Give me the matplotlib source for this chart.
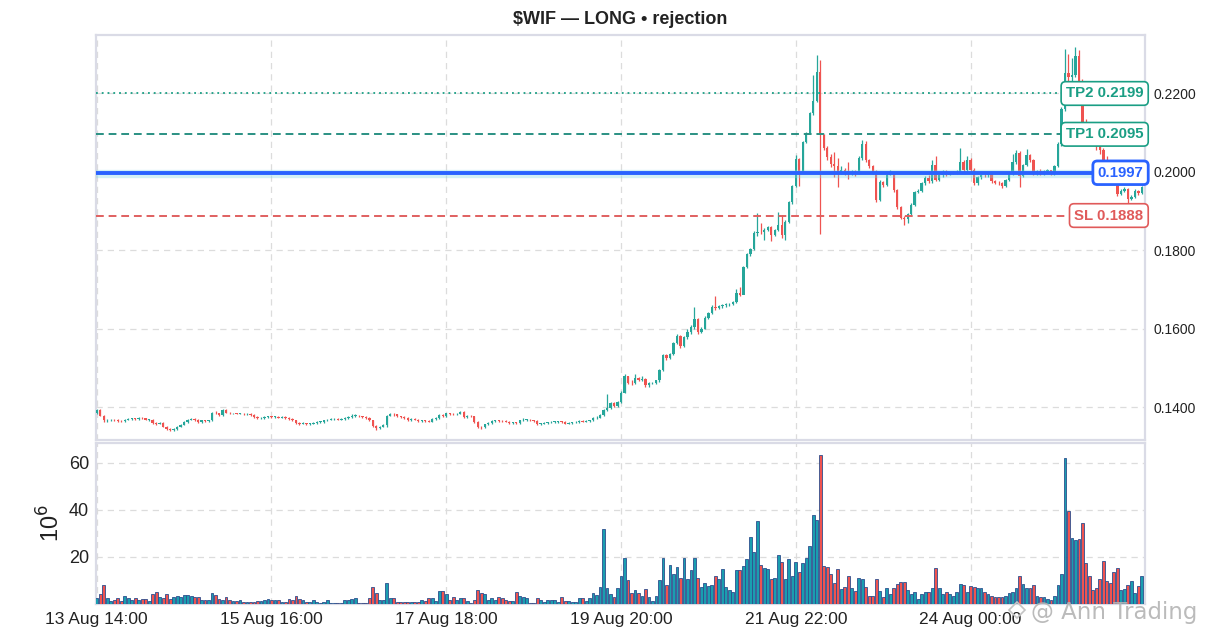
import matplotlib
matplotlib.use("Agg")
import matplotlib.pyplot as plt
from matplotlib.lines import Line2D
import numpy as np

# ---------------- data (prices in 1e-4 units, volume in millions) ----------------
first_open = 1386
closes = [
    1392, 1378, 1366, 1366, 1368, 1367, 1365, 1364, 1368, 1370,
    1371, 1370, 1372, 1371, 1368, 1368, 1360, 1358, 1360, 1350,
    1345, 1342, 1344, 1350, 1355, 1362, 1368, 1370, 1368, 1362,
    1366, 1365, 1366, 1386, 1384, 1380, 1393, 1386, 1384, 1384,
    1383, 1383, 1382, 1382, 1380, 1375, 1372, 1372, 1375, 1376,
    1375, 1375, 1373, 1374, 1372, 1370, 1366, 1360, 1358, 1358,
    1357, 1358, 1360, 1362, 1362, 1366, 1368, 1369, 1369, 1368,
    1370, 1372, 1375, 1378, 1378, 1376, 1375, 1372, 1366, 1352,
    1346, 1350, 1353, 1378, 1382, 1381, 1376, 1374, 1372, 1366,
    1369, 1368, 1365, 1366, 1364, 1363, 1370, 1372, 1380, 1376,
    1384, 1382, 1381, 1383, 1388, 1375, 1378, 1376, 1362, 1350,
    1348, 1356, 1360, 1364, 1366, 1365, 1364, 1363, 1360, 1361,
    1359, 1366, 1368, 1368, 1366, 1365, 1357, 1358, 1360, 1361,
    1362, 1362, 1363, 1362, 1358, 1360, 1361, 1362, 1364, 1363,
    1364, 1366, 1372, 1373, 1380, 1392, 1397, 1410, 1403, 1413,
    1437, 1478, 1462, 1460, 1474, 1470, 1471, 1455, 1460, 1462,
    1468, 1495, 1533, 1525, 1535, 1563, 1580, 1555, 1578, 1590,
    1605, 1625, 1590, 1600, 1628, 1640, 1655, 1653, 1658, 1660,
    1662, 1663, 1668, 1690, 1685, 1757, 1790, 1803, 1844, 1847,
    1845, 1852, 1858, 1838, 1850, 1863, 1838, 1872, 1922, 1963,
    2032, 2000, 2075, 2098, 2148, 2180, 2254, 2093, 2061, 2038,
    2020, 2015, 2000, 2005, 2002, 1998, 2000, 1996, 2034, 2070,
    2029, 2015, 2000, 1928, 1974, 1965, 1992, 1996, 1952, 1910,
    1882, 1878, 1891, 1916, 1947, 1951, 1970, 1984, 1975, 2016,
    1979, 1990, 2000, 1992, 1996, 1998, 2000, 2025, 2003, 2030,
    2005, 1970, 1985, 1991, 1990, 1995, 1975, 1972, 1970, 1963,
    1978, 1995, 2025, 2048, 1988, 2017, 2043, 2030, 1993, 2002,
    1995, 2001, 2003, 1995, 2015, 2070, 2160, 2250, 2240, 2245,
    2295, 2231, 2125, 2115, 2100, 2085, 2065, 2055, 2030, 2025,
    2000, 1980, 1942, 1950, 1955, 1929, 1935, 1950, 1945, 1960,
]
highs = [
    1396, 1394, 1380, 1369, 1370, 1370, 1369, 1367, 1370, 1372,
    1373, 1373, 1374, 1374, 1373, 1370, 1370, 1363, 1363, 1362,
    1352, 1347, 1346, 1352, 1357, 1364, 1370, 1373, 1372, 1370,
    1368, 1368, 1368, 1388, 1390, 1386, 1396, 1395, 1388, 1386,
    1386, 1385, 1385, 1384, 1384, 1382, 1377, 1374, 1377, 1378,
    1378, 1377, 1377, 1376, 1376, 1374, 1372, 1368, 1362, 1361,
    1360, 1360, 1362, 1364, 1364, 1368, 1370, 1371, 1371, 1371,
    1372, 1374, 1377, 1381, 1381, 1380, 1378, 1377, 1374, 1368,
    1354, 1352, 1356, 1380, 1385, 1384, 1383, 1378, 1376, 1374,
    1371, 1371, 1370, 1368, 1368, 1366, 1372, 1374, 1382, 1382,
    1386, 1386, 1384, 1385, 1390, 1390, 1380, 1380, 1378, 1364,
    1352, 1358, 1362, 1366, 1368, 1368, 1367, 1366, 1365, 1363,
    1363, 1368, 1372, 1370, 1370, 1368, 1366, 1360, 1362, 1363,
    1364, 1364, 1365, 1365, 1364, 1362, 1363, 1364, 1366, 1366,
    1366, 1368, 1374, 1376, 1383, 1396, 1432, 1414, 1412, 1416,
    1440, 1484, 1480, 1468, 1484, 1476, 1478, 1474, 1463, 1465,
    1470, 1498, 1536, 1536, 1538, 1566, 1586, 1584, 1582, 1600,
    1608, 1655, 1628, 1604, 1632, 1643, 1660, 1683, 1661, 1663,
    1665, 1666, 1671, 1701, 1705, 1760, 1793, 1806, 1848, 1894,
    1870, 1855, 1862, 1861, 1854, 1898, 1890, 1876, 1925, 1966,
    2043, 2035, 2078, 2101, 2151, 2247, 2298, 2285, 2095, 2065,
    2045, 2050, 2035, 2015, 2010, 2025, 2005, 2004, 2040, 2080,
    2078, 2032, 2018, 2003, 1978, 1977, 1996, 2005, 1998, 1955,
    1912, 1888, 1895, 1920, 1950, 1955, 1974, 1988, 1990, 2030,
    2040, 1995, 2003, 2004, 2000, 2002, 2004, 2060, 2030, 2040,
    2035, 2008, 1988, 1995, 1995, 1998, 1998, 1978, 1975, 1973,
    1982, 2000, 2045, 2055, 2052, 2020, 2058, 2046, 2033, 2005,
    2006, 2004, 2006, 2005, 2018, 2075, 2165, 2313, 2300, 2290,
    2318, 2310, 2235, 2135, 2120, 2105, 2090, 2070, 2060, 2040,
    2028, 2005, 1985, 1955, 1960, 1958, 1940, 1955, 1953, 1963,
]
lows = [
    1383, 1376, 1362, 1363, 1364, 1365, 1362, 1361, 1362, 1366,
    1368, 1368, 1368, 1369, 1366, 1365, 1358, 1355, 1356, 1348,
    1342, 1338, 1340, 1342, 1348, 1353, 1360, 1366, 1365, 1360,
    1360, 1363, 1363, 1364, 1381, 1378, 1378, 1384, 1382, 1381,
    1381, 1381, 1380, 1380, 1378, 1373, 1370, 1370, 1370, 1373,
    1373, 1372, 1371, 1371, 1370, 1368, 1364, 1358, 1355, 1356,
    1354, 1355, 1356, 1358, 1360, 1360, 1364, 1366, 1367, 1366,
    1366, 1368, 1370, 1373, 1375, 1374, 1373, 1370, 1364, 1348,
    1342, 1344, 1348, 1350, 1376, 1378, 1374, 1372, 1369, 1364,
    1364, 1366, 1363, 1363, 1362, 1361, 1361, 1368, 1370, 1374,
    1374, 1380, 1379, 1379, 1381, 1373, 1373, 1374, 1360, 1346,
    1344, 1346, 1354, 1358, 1362, 1363, 1362, 1361, 1358, 1358,
    1357, 1357, 1364, 1365, 1364, 1363, 1355, 1355, 1356, 1358,
    1359, 1360, 1360, 1360, 1356, 1356, 1358, 1359, 1360, 1361,
    1361, 1362, 1364, 1370, 1371, 1378, 1390, 1395, 1400, 1401,
    1410, 1435, 1458, 1455, 1458, 1466, 1466, 1452, 1452, 1458,
    1458, 1465, 1492, 1520, 1522, 1532, 1560, 1550, 1552, 1574,
    1586, 1600, 1586, 1588, 1598, 1624, 1637, 1648, 1650, 1652,
    1656, 1658, 1660, 1665, 1682, 1710, 1754, 1786, 1800, 1836,
    1842, 1826, 1848, 1822, 1835, 1848, 1830, 1825, 1868, 1918,
    1960, 1962, 1998, 2072, 2095, 2145, 2176, 1842, 2055, 2030,
    2012, 1985, 1960, 1995, 1990, 1980, 1992, 1988, 1994, 2030,
    2025, 2010, 1995, 1922, 1925, 1960, 1962, 1990, 1948, 1905,
    1878, 1865, 1870, 1888, 1913, 1945, 1948, 1966, 1972, 1972,
    1975, 1976, 1987, 1988, 1990, 1993, 1995, 1997, 1998, 2000,
    2000, 1966, 1967, 1982, 1986, 1986, 1972, 1968, 1965, 1958,
    1960, 1975, 1992, 2020, 1960, 1985, 2014, 2025, 1990, 1990,
    1990, 1992, 1996, 1990, 1992, 2012, 2065, 2155, 2230, 2232,
    2240, 2225, 2110, 2100, 2090, 2075, 2055, 2045, 2020, 2015,
    1995, 1975, 1938, 1940, 1948, 1920, 1928, 1932, 1940, 1942,
]
volumes = [
    2.4, 4.3, 8.1, 2.4, 1.4, 1.8, 2.4, 1.1, 3.3, 2.4,
    1.8, 2.4, 1.7, 2.1, 2.1, 1.1, 4.3, 5.0, 2.8, 2.6,
    4.3, 2.1, 2.8, 3.3, 2.8, 4.0, 4.0, 3.5, 3.1, 2.8,
    1.8, 1.7, 1.7, 4.7, 3.8, 2.1, 1.8, 2.8, 1.8, 1.4,
    1.1, 1.7, 0.7, 0.7, 0.7, 1.0, 1.4, 1.4, 1.8, 2.1,
    1.6, 1.8, 1.7, 0.7, 0.7, 2.1, 1.8, 3.5, 2.1, 1.8,
    0.8, 0.8, 1.8, 0.7, 0.4, 0.7, 1.8, 0.5, 0.5, 0.5,
    0.5, 1.8, 1.8, 2.1, 2.4, 0.6, 0.6, 0.6, 2.4, 7.1,
    4.7, 1.8, 1.8, 8.8, 2.4, 2.4, 1.0, 1.0, 0.8, 0.8,
    0.8, 0.8, 0.7, 1.8, 1.2, 2.4, 2.4, 1.4, 5.7, 5.4,
    4.3, 1.8, 3.1, 1.7, 2.4, 2.4, 1.1, 0.6, 1.8, 6.0,
    4.5, 4.3, 1.7, 2.4, 1.7, 2.8, 2.4, 1.6, 1.4, 1.4,
    5.0, 3.5, 2.8, 2.4, 0.6, 0.6, 2.4, 1.8, 0.7, 1.8,
    1.8, 1.8, 0.7, 2.8, 1.1, 1.2, 0.7, 0.7, 2.4, 2.4,
    1.4, 2.4, 4.7, 3.8, 7.1, 32.0, 7.0, 4.3, 2.8, 7.0,
    12.0, 19.7, 10.0, 4.6, 5.8, 4.6, 3.5, 6.2, 2.8, 1.2,
    3.5, 10.0, 19.7, 8.0, 16.6, 12.8, 15.8, 11.0, 19.4, 10.5,
    14.3, 19.7, 11.0, 7.4, 9.0, 7.7, 8.0, 12.0, 10.5, 15.0,
    7.4, 5.8, 5.0, 14.3, 14.3, 16.3, 19.0, 28.6, 22.0, 35.4,
    16.6, 15.4, 15.0, 10.5, 11.0, 21.0, 18.0, 10.5, 19.0, 12.0,
    18.0, 13.5, 17.4, 19.7, 24.6, 37.8, 35.8, 63.5, 16.3, 15.8,
    12.8, 9.0, 15.0, 6.2, 7.4, 12.0, 6.6, 5.5, 11.0, 10.5,
    7.4, 3.5, 3.2, 10.5, 5.5, 2.8, 6.6, 4.3, 6.6, 8.6,
    9.2, 9.2, 5.8, 4.3, 5.0, 2.0, 4.3, 5.0, 5.0, 7.0,
    15.4, 6.6, 4.3, 5.0, 4.3, 3.5, 5.0, 8.6, 8.0, 5.0,
    7.7, 7.4, 7.0, 6.6, 5.0, 4.3, 3.5, 3.0, 2.8, 3.0,
    3.5, 4.6, 5.0, 6.6, 12.0, 8.6, 7.0, 6.6, 8.0, 3.5,
    3.0, 2.8, 2.0, 1.5, 3.5, 8.0, 12.8, 62.0, 39.4, 28.0,
    27.4, 27.7, 34.3, 17.4, 12.0, 5.8, 6.6, 10.8, 18.5, 9.7,
    8.9, 13.8, 15.4, 5.8, 6.2, 8.0, 9.7, 4.6, 7.7, 12.0,
]
xtick_pos = [0, 50, 100, 150, 200, 250]
xtick_labels = ["13 Aug 14:00", "15 Aug 16:00", "17 Aug 18:00",
                "19 Aug 20:00", "21 Aug 22:00", "24 Aug 00:00"]
price_ticks = [0.14, 0.16, 0.18, 0.20, 0.22]
vol_ticks = [20, 40, 60]
tp2, tp1, entry, sl = 0.2199, 0.2095, 0.1997, 0.1888
title = "$WIF — LONG • rejection"

# ---------------- derived arrays ----------------
c = np.array(closes) * 1e-4
h = np.array(highs) * 1e-4
l = np.array(lows) * 1e-4
o = np.concatenate([[first_open * 1e-4], c[:-1]])
v = np.array(volumes)
n = len(c)
x = np.arange(n)
up = c >= o

plt.rcParams['font.family'] = ['Liberation Sans', 'DejaVu Sans']

UP = "#26a69a"
DN = "#ef5350"
GRID = "#dcdcdc"
FRAME = "#dadbe6"

fig = plt.figure(figsize=(12.05, 6.38), dpi=100)
ax = fig.add_axes([96/1205, 1-440/638, (1145-96)/1205, (440-35)/638])
axv = fig.add_axes([96/1205, 1-604/638, (1145-96)/1205, (604-443)/638], sharex=ax)

for a in (ax, axv):
    a.set_facecolor("white")
    for s in a.spines.values():
        s.set_color(FRAME)
        s.set_linewidth(1.6)
    a.grid(True, color=GRID, linestyle=(0, (5, 4)), linewidth=0.9)
    a.set_axisbelow(True)
    a.tick_params(length=0)

# candles
ax.vlines(x, l, h, colors=np.where(up, UP, DN), linewidth=0.9, zorder=2)
body_h = np.maximum(np.abs(c - o), 0.00012)
body_b = np.minimum(o, c)
ax.bar(x, body_h, bottom=body_b, width=0.66, color=np.where(up, UP, DN),
       linewidth=0, zorder=3)

# level lines
ax.axhline(tp2, color="#1a9e84", linestyle=(0, (1, 2.2)), linewidth=1.3, zorder=4)
ax.axhline(tp1, color="#2a9183", linestyle=(0, (4, 2.5)), linewidth=1.4, zorder=4)
ax.axhline(sl, color="#e06060", linestyle=(0, (4, 2.5)), linewidth=1.4, zorder=4)
ax.axhline(entry - 0.0003, color="#7fd6e3", linewidth=6, alpha=0.35, zorder=4)
ax.axhline(entry, color="#2962ff", linewidth=2.8, zorder=5)

def tag(y, txt, col, lw=1.2):
    ax.text(0.9985, y, txt, transform=ax.get_yaxis_transform(), ha="right",
            va="center", fontsize=10.8, fontweight="bold", color=col, zorder=10,
            clip_on=False,
            bbox=dict(boxstyle="round,pad=0.32,rounding_size=0.3", fc="white",
                      ec=col, lw=lw))

tag(tp2, "TP2 0.2199", "#1a9e84")
tag(tp1, "TP1 0.2095", "#1a9e84")
tag(entry, "0.1997", "#2962ff", lw=2.0)
tag(sl, "SL 0.1888", "#e05a5a")

ax.set_ylim(0.1316, 0.2348)
ax.set_xlim(-0.2, n - 0.1)
ax.yaxis.tick_right()
ax.set_yticks(price_ticks)
ax.set_yticklabels([f"{t:.4f}" for t in price_ticks], fontsize=10, color="#222222")
ax.tick_params(axis="y", pad=6)
ax.tick_params(axis="x", labelbottom=False)
ax.set_title(title, fontsize=13, fontweight="bold", color="#222222", pad=8)

# volume
axv.bar(x, v, width=0.82, color=np.where(up, "#1a9eb0", DN),
        edgecolor="#2d4f8e", linewidth=0.6, zorder=3)
axv.set_ylim(0, 68.5)
axv.set_yticks(vol_ticks)
axv.set_yticklabels([str(t) for t in vol_ticks], fontsize=13, color="#222222")
axv.tick_params(axis="y", pad=5)
axv.set_ylabel("10$^6$", fontsize=17, color="#222222", labelpad=3)
axv.set_xticks(xtick_pos)
axv.set_xticklabels(xtick_labels, fontsize=12.5, color="#222222")
axv.tick_params(axis="x", pad=6)

# watermark
fig.text(1197/1205, 1-613/638, "@ Ann Trading", ha="right", va="center",
         fontsize=16.5, color="#b4b4b4", alpha=0.9,
         family=["DejaVu Sans"])
fig.add_artist(Line2D([1017/1205], [1-610/638], marker="D", markersize=8,
                      markerfacecolor="none", markeredgecolor="#c4c4c4",
                      markeredgewidth=1.2, transform=fig.transFigure))

fig.savefig("out.png", dpi=100, facecolor="white")
